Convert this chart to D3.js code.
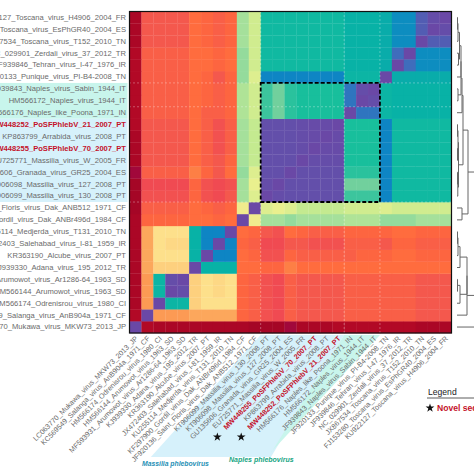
<!DOCTYPE html>
<html>
<head>
<meta charset="utf-8">
<script src="https://cdn.jsdelivr.net/npm/d3@7"></script>
<style>
	html, body { margin: 0; padding: 0; background: #fff; overflow: hidden; }
	text { font-family: "Liberation Sans", Arial, sans-serif; }
</style>
</head>
<body>
<svg id="chart" width="474" height="474"></svg>
<script>
// order runs from the bottom row up, which is also left to right on the x axis
const strains = [
	"LC063770_Mukawa_virus_MKW73_2013_JP",
	"KC569549_Salanga_virus_AnB904a_1971_CF",
	"HM566174_Odrenisrou_virus_1980_CI",
	"HM566144_Arumowot_virus_1963_SD",
	"MF593931_Arumowot_virus_Ar1286-64_1963_SD",
	"KJ939330_Adana_virus_195_2012_TR",
	"KR363190_Alcube_virus_2007_PT",
	"JX472403_Salehabad_virus_I-81_1959_IR",
	"KU255114_Medjerda_virus_T131_2010_TN",
	"KF297900_Gordil_virus_Dak_ANBr496d_1984_CF",
	"JF920136_Saint_Floris_virus_Dak_ANB512_1971_CF",
	"KT906099_Massilia_virus_130_2008_PT",
	"KT906098_Massilia_virus_127_2008_PT",
	"GU135606_Granada_virus_GR25_2004_ES",
	"EU725771_Massilia_virus_W_2005_FR",
	"MW448255_PoSFPhlebV_70_2007_PT",
	"KP863799_Arrabida_virus_2008_PT",
	"MW448252_PoSFPhlebV_21_2007_PT",
	"HM566176_Naples_like_Poona_1971_IN",
	"HM566172_Naples_virus_1944_IT",
	"JF939843_Naples_virus_Sabin_1944_IT",
	"JF920133_Punique_virus_PI-B4-2008_TN",
	"JF939846_Tehran_virus_I-47_1976_IR",
	"NC_029901_Zerdali_virus_37_2012_TR",
	"JX867534_Toscana_virus_T152_2010_TN",
	"FJ153280_Toscana_virus_EsPhGR40_2004_ES",
	"KU922127_Toscana_virus_H4906_2004_FR"
];
const novel = ["MW448255_PoSFPhlebV_70_2007_PT", "MW448252_PoSFPhlebV_21_2007_PT"];
const massilia = strains.slice(11, 18);
const naples = strains.slice(18, 21);

// pairwise identity, lower triangle, estimated by eye from the colours
const identity = [
	[100],
	[32, 100],
	[31, 44, 100],
	[31, 44, 70, 100],
	[31, 44, 70, 97, 100],
	[31, 45, 48, 48, 48, 100],
	[31, 45, 50, 50, 50, 71, 100],
	[31, 45, 50, 49, 49, 71, 80, 100],
	[31, 45, 50, 50, 50, 71, 80, 80, 100],
	[31, 40, 40, 40, 40, 41, 41, 40, 41, 100],
	[30, 39, 39, 39, 39, 41, 40, 39, 40, 52, 100],
	[30, 37, 37, 37, 37, 40, 37, 36, 38, 59, 54, 100],
	[30, 36, 36, 36, 36, 40, 37, 36, 37, 59, 53, 97, 100],
	[29, 39, 39, 39, 39, 42, 40, 38, 41, 60, 54, 96, 96, 100],
	[31, 38, 38, 38, 38, 41, 39, 38, 40, 59, 56, 96, 96, 96, 100],
	[31, 38, 38, 38, 38, 41, 39, 37, 39, 59, 56, 96, 96, 96, 97, 100],
	[31, 38, 38, 38, 38, 41, 39, 37, 39, 59, 56, 96, 96, 96, 97, 98, 100],
	[32, 38, 38, 38, 38, 41, 39, 37, 39, 59, 56, 96, 96, 96, 97, 98, 98, 100],
	[32, 39, 39, 39, 39, 41, 39, 39, 40, 58, 55, 65, 62, 66, 67, 67, 67, 67, 100],
	[32, 39, 39, 39, 39, 41, 40, 39, 40, 58, 55, 65, 62, 66, 67, 67, 67, 67, 84, 100],
	[32, 39, 39, 39, 39, 41, 40, 39, 40, 58, 55, 65, 62, 66, 67, 67, 67, 67, 84, 97, 100],
	[32, 39, 39, 39, 39, 41, 40, 38, 40, 60, 54, 80, 80, 80, 80, 80, 80, 80, 70, 70, 70, 100],
	[32, 39, 39, 39, 39, 41, 41, 40, 41, 60, 55, 69, 69, 69, 69, 69, 69, 69, 71, 71, 71, 72, 100],
	[32, 39, 39, 39, 39, 41, 41, 40, 41, 60, 55, 69, 69, 69, 69, 69, 69, 69, 71, 71, 71, 72, 86, 100],
	[31, 38, 38, 38, 38, 41, 40, 39, 40, 59, 55, 69, 69, 69, 69, 69, 69, 69, 71, 71, 71, 72, 78, 78, 100],
	[31, 38, 38, 38, 38, 41, 40, 39, 40, 59, 55, 69, 69, 69, 69, 69, 69, 69, 71, 71, 71, 72, 78, 78, 90, 100],
	[31, 38, 38, 38, 38, 41, 40, 39, 40, 59, 55, 69, 69, 69, 69, 69, 69, 69, 71, 71, 71, 72, 78, 78, 90, 97, 100]
];

const colorStops = [28, 30, 33, 36, 38, 40, 41, 42, 45, 48, 50, 53, 56, 59, 63, 67, 71, 76, 80, 86, 92, 100];
const colorValues = ["#9d0a4f", "#a50626", "#b80a26", "#f04a52", "#f4584d", "#fd6540", "#ff6c3e", "#fd7f45",
	"#fca75c", "#fdd07e", "#fde08b", "#e9f08e", "#c4ea90", "#a5e09b", "#5fcb9e", "#18bf9c", "#08b2a6",
	"#0c95bb", "#0e85c4", "#3f6dbc", "#5c55ae", "#6a48a6"];

// dendrogram merges: [child, child, height], number = strain index, "mN" = earlier merge
const merges = [
	[26, 25, 0.5], [24, "m0", 1], [23, 22, 1.5], ["m1", "m2", 2.5], [21, "m3", 4],
	[20, 19, 1], ["m4", "m5", 4], ["m6", 18, 5],
	[17, 16, 0.5], [15, 14, 0.5], ["m8", "m9", 1], [13, 12, 0.5], ["m11", 11, 0.8], ["m10", "m12", 1.5],
	["m7", "m13", 6], [10, 9, 5], ["m14", "m15", 11],
	[8, 7, 0.5], ["m17", 6, 1], ["m18", 5, 3], [4, 3, 0.5], ["m20", 2, 3],
	["m19", "m21", 10], ["m22", 1, 10], ["m16", "m23", 40], ["m24", 0, 60]
];

const svg = d3.select("#chart");
const plotLeft = 129.5, plotRight = 451.5, plotTop = 11.5, plotBottom = 333;

const x = d3.scaleBand().domain(strains).range([plotLeft, plotRight]);
const y = d3.scaleBand().domain(strains.slice().reverse()).range([plotTop, plotBottom]);
const color = d3.scaleLinear().domain(colorStops).range(colorValues);

// label shading, left side
const shade = [
	{ names: massilia, fill: "#d6f1fb" },
	{ names: naples, fill: "#c8f5ec" }
];
shade.forEach((s) => {
	svg.append("rect")
		.attr("x", 0)
		.attr("y", y(s.names[s.names.length - 1]))
		.attr("width", plotLeft - 2)
		.attr("height", y.step() * s.names.length)
		.attr("fill", s.fill);
});

// label shading, bottom side, follows the slant of the labels
const shadeBottom = (names, fill, depthY, slantLeft, slantRight) => {
	const x0 = x(names[0]);
	const x1 = x(names[names.length - 1]) + x.step();
	const y0 = plotBottom + 2;
	const reach = depthY - y0;
	svg.append("path")
		.attr("d", d3.line()([[x0, y0], [x1, y0], [x1 - reach * slantRight, depthY], [x0 - reach * slantLeft, depthY]]))
		.attr("fill", fill);
};
shadeBottom(massilia, "#d6f1fb", 457, 0.9, 0.6);
shadeBottom(naples, "#c8f5ec", 452, 0.62, 0.93);

// heatmap cells, mirrored over the diagonal
const cells = [];
identity.forEach((row, i) => {
	row.forEach((v, j) => {
		cells.push({ a: strains[i], b: strains[j], v: v });
		if (i !== j) cells.push({ a: strains[j], b: strains[i], v: v });
	});
});
svg.append("g")
	.selectAll("rect")
	.data(cells)
	.join("rect")
	.attr("x", (d) => x(d.a))
	.attr("y", (d) => y(d.b))
	.attr("width", x.step() + 0.3)
	.attr("height", y.step() + 0.3)
	.attr("fill", (d) => color(d.v));

// white dotted clade guides
const guidesX = [x(massilia[0]), x(naples[0]), x(strains[21])];
const guidesY = [y(naples[2]), y(naples[0]), y(massilia[0]) + y.step()];
svg.append("g")
	.selectAll("line")
	.data(guidesX)
	.join("line")
	.attr("x1", (d) => d)
	.attr("x2", (d) => d)
	.attr("y1", plotTop)
	.attr("y2", plotBottom);
svg.append("g")
	.selectAll("line")
	.data(guidesY)
	.join("line")
	.attr("x1", plotLeft)
	.attr("x2", plotRight)
	.attr("y1", (d) => d)
	.attr("y2", (d) => d);
svg.selectAll("line")
	.attr("stroke", "#fff")
	.attr("stroke-opacity", 0.7)
	.attr("stroke-width", 0.9)
	.attr("stroke-dasharray", "1,3");

// dashed box round the Massilia and Naples block
svg.append("rect")
	.attr("x", x(massilia[0]))
	.attr("y", y(naples[2]))
	.attr("width", x.step() * 10)
	.attr("height", y.step() * 10)
	.attr("fill", "none")
	.attr("stroke", "#000")
	.attr("stroke-width", 1.8)
	.attr("stroke-dasharray", "4,2");

svg.append("rect")
	.attr("x", plotLeft)
	.attr("y", plotTop)
	.attr("width", plotRight - plotLeft)
	.attr("height", plotBottom - plotTop)
	.attr("fill", "none")
	.attr("stroke", "#111")
	.attr("stroke-width", 1.2);

const styleLabel = (sel, size) => {
	sel.attr("font-size", size)
		.attr("fill", (d) => (novel.includes(d) ? "#c4122a" : "#6a6a6a"))
		.attr("font-weight", (d) => (novel.includes(d) ? "bold" : "normal"))
		.text((d) => d);
};

svg.append("g")
	.selectAll("text")
	.data(strains)
	.join("text")
	.attr("x", plotLeft - 3.5)
	.attr("y", (d) => y(d) + y.step() / 2 + 2.4)
	.attr("text-anchor", "end")
	.call(styleLabel, 7.6);

svg.append("g")
	.selectAll("text")
	.data(strains)
	.join("text")
	.attr("text-anchor", "end")
	.attr("transform", (d) => `translate(${x(d) + x.step() / 2 + 3},${plotBottom + 6}) rotate(-45)`)
	.call(styleLabel, 7.2);

// stars under the two new sequences
svg.append("g")
	.selectAll("path")
	.data(novel)
	.join("path")
	.attr("d", d3.symbol().type(d3.symbolStar).size(24))
	.attr("transform", (d) => `translate(${x(d) + x.step() / 2 - 97},${plotBottom + 104})`)
	.attr("fill", "#111");

svg.append("text")
	.attr("x", 142)
	.attr("y", 466)
	.attr("font-size", 6.8)
	.attr("font-style", "italic")
	.attr("font-weight", "bold")
	.attr("fill", "#1f8fb5")
	.text("Massilia phlebovirus");
svg.append("text")
	.attr("x", 229)
	.attr("y", 462)
	.attr("font-size", 7)
	.attr("font-style", "italic")
	.attr("font-weight", "bold")
	.attr("fill", "#15a583")
	.text("Naples phlebovirus");

// dendrogram, root lies past the right edge of the figure
const depth = d3.scaleLinear().domain([0, 100]).range([457, 557]);
const nodes = {};
const locate = (c) => (typeof c === "number" ? { y: y(strains[c]) + y.step() / 2, h: 0 } : nodes[c]);
const tree = svg.append("g").attr("fill", "none").attr("stroke", "#666").attr("stroke-width", 1);
merges.forEach((m, i) => {
	const a = locate(m[0]);
	const b = locate(m[1]);
	tree.append("path").attr("d", d3.line()([
		[depth(a.h), a.y],
		[depth(m[2]), a.y],
		[depth(m[2]), b.y],
		[depth(b.h), b.y]
	]));
	nodes["m" + i] = { y: (a.y + b.y) / 2, h: m[2] };
});

// legend, runs off the right edge like the source figure
svg.append("text")
	.attr("x", 428)
	.attr("y", 395)
	.attr("font-size", 8.6)
	.attr("fill", "#222")
	.text("Legend");
svg.append("line")
	.attr("x1", 427)
	.attr("x2", 474)
	.attr("y1", 398)
	.attr("y2", 398)
	.attr("stroke", "#333")
	.attr("stroke-width", 0.8);
svg.append("path")
	.attr("d", d3.symbol().type(d3.symbolStar).size(24))
	.attr("transform", "translate(430,408)")
	.attr("fill", "#111");
svg.append("text")
	.attr("x", 437)
	.attr("y", 411)
	.attr("font-size", 8.6)
	.attr("font-weight", "bold")
	.attr("fill", "#c4122a")
	.text("Novel sequence");
</script>
</body>
</html>
